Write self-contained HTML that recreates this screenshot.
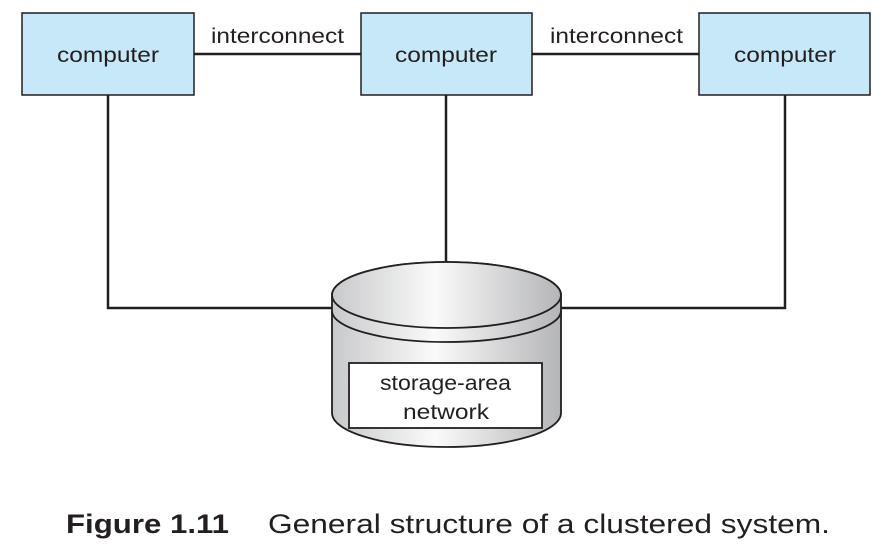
<!DOCTYPE html>
<html><head><style>
body{margin:0;background:#fff;width:888px;height:552px;overflow:hidden}
</style></head><body>
<svg width="888" height="552" xmlns="http://www.w3.org/2000/svg" font-family="Liberation Sans, sans-serif">
<defs>
<linearGradient id="g" x1="0" x2="1" y1="0" y2="0">
<stop offset="0" stop-color="#c8c9cb"/><stop offset="0.45" stop-color="#fafafa"/><stop offset="1" stop-color="#b4b5b7"/>
</linearGradient>
</defs>
<g stroke="#231f20" stroke-width="2.5" fill="none">
<line x1="194" y1="54" x2="361" y2="54"/>
<line x1="532" y1="54" x2="699" y2="54"/>
<polyline points="108,95 108,308 332,308"/>
<polyline points="785,95 785,308 561,308"/>
<line x1="446" y1="95" x2="446" y2="262"/>
</g>
<g stroke="#231f20" stroke-width="1.5" fill="#c7e8f8">
<rect x="22" y="13" width="172" height="82"/>
<rect x="361" y="13" width="171" height="82"/>
<rect x="699" y="13" width="171" height="82"/>
</g>
<g font-size="21" fill="#231f20">
<text x="57" y="62" textLength="102" lengthAdjust="spacingAndGlyphs">computer</text>
<text x="395" y="62" textLength="102" lengthAdjust="spacingAndGlyphs">computer</text>
<text x="734" y="62" textLength="102" lengthAdjust="spacingAndGlyphs">computer</text>
<text x="211" y="43" textLength="133" lengthAdjust="spacingAndGlyphs">interconnect</text>
<text x="550" y="43" textLength="133" lengthAdjust="spacingAndGlyphs">interconnect</text>
</g>
<g stroke="#231f20" stroke-width="1.8" fill="url(#g)">
<path d="M332,295 L332,413 A114.5,34 0 0 0 561,413 L561,295 A114.5,33 0 0 0 332,295 Z"/>
<ellipse cx="446.5" cy="295" rx="114.5" ry="33"/>
<path d="M332,311 A114.5,31 0 0 0 561,311" fill="none"/>
<rect x="349" y="363" width="193" height="65" fill="#fff"/>
</g>
<g font-size="21" fill="#231f20">
<text x="380" y="390" textLength="131" lengthAdjust="spacingAndGlyphs">storage-area</text>
<text x="403" y="419" textLength="86" lengthAdjust="spacingAndGlyphs">network</text>
</g>
<g font-size="27" fill="#231f20">
<text x="66" y="533" font-weight="bold" textLength="163" lengthAdjust="spacingAndGlyphs">Figure 1.11</text>
<text x="268" y="533" textLength="562" lengthAdjust="spacingAndGlyphs">General structure of a clustered system.</text>
</g>
</svg>
</body></html>
